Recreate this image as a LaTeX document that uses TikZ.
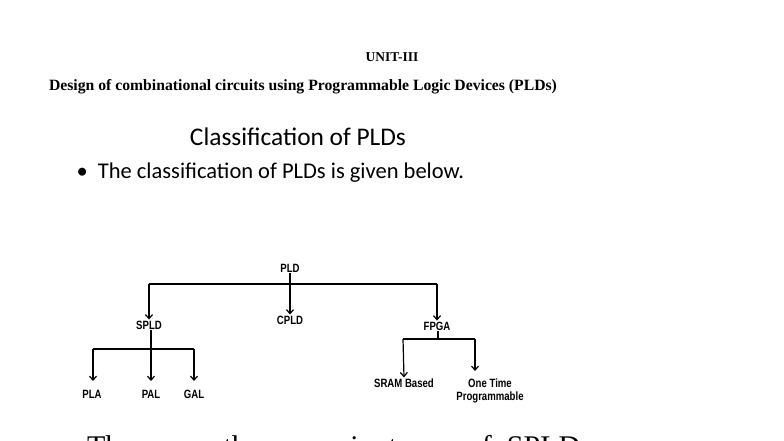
\documentclass[tikz,border=0pt]{standalone}
\usepackage{fontspec}
\setmainfont{Liberation Serif}
\newfontfamily\calfnt{Carlito}
\newfontfamily\arfnt{Liberation Sans}[FakeStretch=0.8]
\usetikzlibrary{arrows.meta}
\begin{document}
\begin{tikzpicture}[x=1pt,y=-1pt,
  lab/.style={font=\arfnt\bfseries\fontsize{12}{13}\selectfont,inner sep=1pt,align=center},
  con/.style={line width=1.2pt},
  arr/.style={con,-{Straight Barb[length=4pt,width=7pt]}}]
\path[use as bounding box,fill=white] (0,0) rectangle (784,441);
\clip (0,0) rectangle (784,441);
\node[font=\bfseries\fontsize{13.5}{15}\selectfont] (unit) at (392,57) {UNIT-III};
\node[font=\bfseries\fontsize{15.7}{18}\selectfont] (des) at (303,87) {Design of combinational circuits using Programmable Logic Devices (PLDs)};
\node[font=\calfnt\fontsize{25.4}{28}\selectfont] (cls) at (298,137) {Classification of PLDs};
\node[font=\calfnt\fontsize{22.5}{26}\selectfont,anchor=west] (b1) at (73,173) {\textbullet\ \ The classification of PLDs is given below.};
\node[font=\fontsize{30}{34}\selectfont,anchor=west] (b2) at (58,449) {\textbullet\ \ There \ are \ three, \ \ main \ types \ of \ SPLD};
% tree
\node[lab] (pld) at (290,268) {PLD};
\node[lab] (spld) at (149,325) {SPLD};
\node[lab] (cpld) at (290,320) {CPLD};
\node[lab] (fpga) at (437,326) {FPGA};
\node[lab] (pla) at (92,394) {PLA};
\node[lab] (pal) at (151,394) {PAL};
\node[lab] (gal) at (194,394) {GAL};
\node[lab] (sram) at (404,383) {SRAM Based};
\node[lab] (otp) at (490,391) {One Time\\Programmable};
\coordinate (j1) at (290,284);
\coordinate (j2) at (151,349);
\coordinate (j3) at (438,339);
\draw[con] (149,284) -- (437,284);
\draw[con] (pld.south) -- (j1);
\draw[arr] (j1) -- (cpld.north);
\draw[arr] (149,284) -- (spld.north);
\draw[arr] (437,284) -- (fpga.north);
\draw[con] (spld.south -| j2) -- (j2);
\draw[con] (93,349) -- (194,349);
\draw[arr] (93,349) -- (93,381);
\draw[arr] (j2) -- (151,381);
\draw[arr] (194,349) -- (194,381);
\draw[con] (fpga.south -| j3) -- (j3);
\draw[con] (403,339) -- (475,339);
\draw[arr] (403,339) -- (sram.north);
\draw[arr] (475,339) -- (475,371);
\end{tikzpicture}
\end{document}
